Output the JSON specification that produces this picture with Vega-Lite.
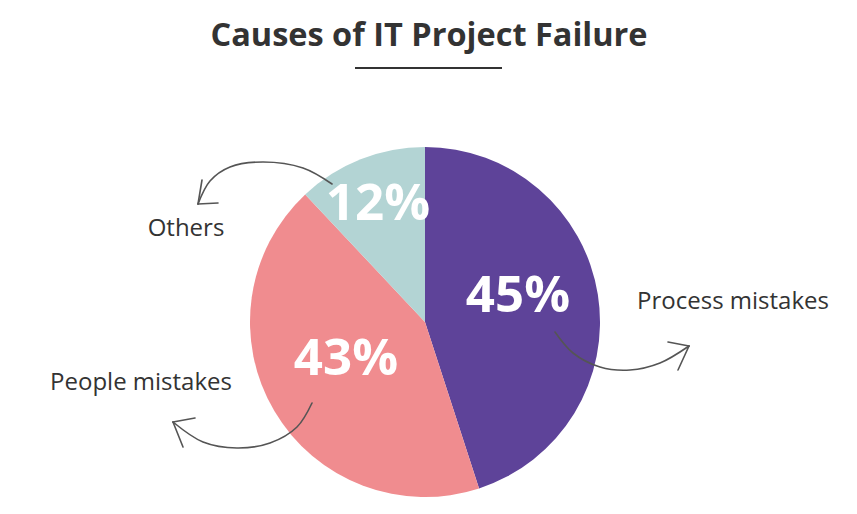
{
  "$schema": "https://vega.github.io/schema/vega-lite/v6.json",
  "width": 857,
  "height": 514,
  "padding": 0,
  "autosize": {"type": "fit", "contains": "padding"},
  "background": "#ffffff",
  "config": {"view": {"stroke": null}},
  "datasets": {
    "pie": [
      {"cause": "Process mistakes", "value": 45, "order": 1},
      {"cause": "People mistakes", "value": 43, "order": 2},
      {"cause": "Others", "value": 12, "order": 3}
    ],
    "texts": [
      {"text": "Causes of IT Project Failure", "kind": "title", "x": 429, "y": 36},
      {"text": "45%", "kind": "pct", "x": 518, "y": 297},
      {"text": "43%", "kind": "pct", "x": 346, "y": 360},
      {"text": "12%", "kind": "pct", "x": 378, "y": 205},
      {"text": "Others", "kind": "label", "x": 186, "y": 229},
      {"text": "Process mistakes", "kind": "label", "x": 733, "y": 302},
      {"text": "People mistakes", "kind": "label", "x": 141, "y": 383}
    ],
    "underline": [
      {"x": 355, "x2": 502, "y": 68}
    ],
    "arrows": [
      {"g": "o-curve", "i": 1, "x": 332, "y": 184},
      {"g": "o-curve", "i": 2, "x": 303, "y": 168},
      {"g": "o-curve", "i": 3, "x": 263, "y": 162},
      {"g": "o-curve", "i": 4, "x": 230, "y": 167},
      {"g": "o-curve", "i": 5, "x": 210, "y": 181},
      {"g": "o-curve", "i": 6, "x": 198, "y": 204},
      {"g": "o-arm1", "i": 1, "x": 198, "y": 204},
      {"g": "o-arm1", "i": 2, "x": 202, "y": 180},
      {"g": "o-arm2", "i": 1, "x": 198, "y": 204},
      {"g": "o-arm2", "i": 2, "x": 218, "y": 203},
      {"g": "p-curve", "i": 1, "x": 555, "y": 332},
      {"g": "p-curve", "i": 2, "x": 573, "y": 353},
      {"g": "p-curve", "i": 3, "x": 600, "y": 367},
      {"g": "p-curve", "i": 4, "x": 630, "y": 370},
      {"g": "p-curve", "i": 5, "x": 660, "y": 363},
      {"g": "p-curve", "i": 6, "x": 689, "y": 346},
      {"g": "p-arm1", "i": 1, "x": 689, "y": 346},
      {"g": "p-arm1", "i": 2, "x": 668, "y": 342},
      {"g": "p-arm2", "i": 1, "x": 689, "y": 346},
      {"g": "p-arm2", "i": 2, "x": 678, "y": 370},
      {"g": "m-curve", "i": 1, "x": 312, "y": 403},
      {"g": "m-curve", "i": 2, "x": 297, "y": 427},
      {"g": "m-curve", "i": 3, "x": 270, "y": 443},
      {"g": "m-curve", "i": 4, "x": 237, "y": 448},
      {"g": "m-curve", "i": 5, "x": 203, "y": 442},
      {"g": "m-curve", "i": 6, "x": 173, "y": 422},
      {"g": "m-arm1", "i": 1, "x": 173, "y": 422},
      {"g": "m-arm1", "i": 2, "x": 195, "y": 418},
      {"g": "m-arm2", "i": 1, "x": 173, "y": 422},
      {"g": "m-arm2", "i": 2, "x": 183, "y": 447}
    ]
  },
  "layer": [
    {
      "data": {"name": "pie"},
      "mark": {"type": "arc", "outerRadius": 175, "stroke": null},
      "encoding": {
        "x": {"datum": 425, "type": "quantitative", "scale": {"domain": [0, 857], "nice": false, "zero": false}, "axis": null},
        "y": {"datum": 322, "type": "quantitative", "scale": {"domain": [0, 514], "nice": false, "zero": false, "reverse": true}, "axis": null},
        "theta": {"field": "value", "type": "quantitative", "stack": true},
        "order": {"field": "order", "type": "ordinal"},
        "color": {
          "field": "cause", "type": "nominal", "legend": null,
          "scale": {"domain": ["Process mistakes", "People mistakes", "Others"], "range": ["#5E4399", "#F08C8F", "#B3D4D4"]}
        }
      }
    },
    {
      "data": {"name": "underline"},
      "mark": {"type": "rule", "color": "#333333", "strokeWidth": 2},
      "encoding": {
        "x": {"field": "x", "type": "quantitative"},
        "x2": {"field": "x2"},
        "y": {"field": "y", "type": "quantitative"}
      }
    },
    {
      "data": {"name": "arrows"},
      "mark": {"type": "line", "color": "#555555", "strokeWidth": 1.6, "interpolate": "catmull-rom", "strokeCap": "round"},
      "encoding": {
        "x": {"field": "x", "type": "quantitative"},
        "y": {"field": "y", "type": "quantitative"},
        "detail": {"field": "g", "type": "nominal"},
        "order": {"field": "i", "type": "quantitative"}
      }
    },
    {
      "data": {"name": "texts"},
      "transform": [{"filter": "datum.kind === 'title'"}],
      "mark": {"type": "text", "font": "Open Sans", "fontWeight": 700, "fontSize": 32.5, "color": "#333333", "align": "center", "baseline": "middle"},
      "encoding": {
        "x": {"field": "x", "type": "quantitative"},
        "y": {"field": "y", "type": "quantitative"},
        "text": {"field": "text"}
      }
    },
    {
      "data": {"name": "texts"},
      "transform": [{"filter": "datum.kind === 'pct'"}],
      "mark": {"type": "text", "font": "Open Sans", "fontWeight": 700, "fontSize": 51, "color": "#ffffff", "align": "center", "baseline": "middle"},
      "encoding": {
        "x": {"field": "x", "type": "quantitative"},
        "y": {"field": "y", "type": "quantitative"},
        "text": {"field": "text"}
      }
    },
    {
      "data": {"name": "texts"},
      "transform": [{"filter": "datum.kind === 'label'"}],
      "mark": {"type": "text", "font": "Open Sans", "fontWeight": 400, "fontSize": 24, "color": "#333333", "align": "center", "baseline": "middle"},
      "encoding": {
        "x": {"field": "x", "type": "quantitative"},
        "y": {"field": "y", "type": "quantitative"},
        "text": {"field": "text"}
      }
    }
  ]
}
